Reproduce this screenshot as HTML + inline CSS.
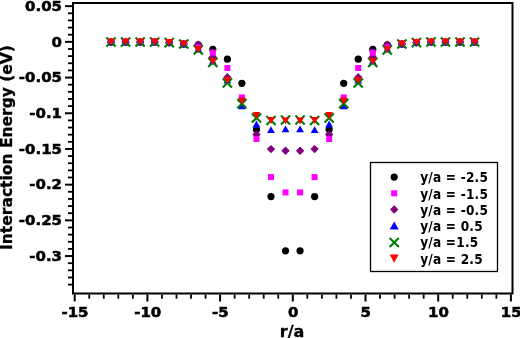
<!DOCTYPE html>
<html><head><meta charset="utf-8"><style>
html,body{margin:0;padding:0;background:#fff;}
svg{display:block;filter:blur(0.3px);}
text{font-family:"DejaVu Sans","Liberation Sans",sans-serif;font-weight:bold;fill:#000;}
.tk{font-size:14.4px;stroke:#000;stroke-width:0.55px;}
.al{font-size:16px;stroke:#000;stroke-width:0.3px;}
.yl{font-size:15.5px;stroke:#000;stroke-width:0.3px;}
.lg{font-size:13.5px;letter-spacing:0.22px;font-family:"DejaVu Sans Condensed","DejaVu Sans",sans-serif;}
</style></head><body>
<svg width="520" height="338" viewBox="0 0 520 338">
<rect width="520" height="338" fill="#fff"/>
<circle cx="111.05" cy="42.00" r="3.6" fill="#000"/>
<circle cx="125.59" cy="42.00" r="3.6" fill="#000"/>
<circle cx="140.13" cy="42.00" r="3.6" fill="#000"/>
<circle cx="154.67" cy="42.00" r="3.6" fill="#000"/>
<circle cx="169.21" cy="42.60" r="3.6" fill="#000"/>
<circle cx="183.75" cy="44.00" r="3.6" fill="#000"/>
<circle cx="198.29" cy="44.80" r="3.6" fill="#000"/>
<circle cx="212.83" cy="49.40" r="3.6" fill="#000"/>
<circle cx="227.37" cy="59.20" r="3.6" fill="#000"/>
<circle cx="241.91" cy="83.30" r="3.6" fill="#000"/>
<circle cx="256.45" cy="129.50" r="3.6" fill="#000"/>
<circle cx="270.99" cy="196.60" r="3.6" fill="#000"/>
<circle cx="285.53" cy="250.80" r="3.6" fill="#000"/>
<circle cx="300.07" cy="250.80" r="3.6" fill="#000"/>
<circle cx="314.61" cy="196.60" r="3.6" fill="#000"/>
<circle cx="329.15" cy="129.50" r="3.6" fill="#000"/>
<circle cx="343.69" cy="83.30" r="3.6" fill="#000"/>
<circle cx="358.23" cy="59.20" r="3.6" fill="#000"/>
<circle cx="372.77" cy="49.40" r="3.6" fill="#000"/>
<circle cx="387.31" cy="44.80" r="3.6" fill="#000"/>
<circle cx="401.85" cy="44.00" r="3.6" fill="#000"/>
<circle cx="416.39" cy="42.60" r="3.6" fill="#000"/>
<circle cx="430.93" cy="42.00" r="3.6" fill="#000"/>
<circle cx="445.47" cy="42.00" r="3.6" fill="#000"/>
<circle cx="460.01" cy="42.00" r="3.6" fill="#000"/>
<circle cx="474.55" cy="42.00" r="3.6" fill="#000"/>
<path d="M111.05 37.80L115.25 42.00L111.05 46.20L106.85 42.00Z" fill="#800080"/>
<path d="M125.59 37.80L129.79 42.00L125.59 46.20L121.39 42.00Z" fill="#800080"/>
<path d="M140.13 37.80L144.33 42.00L140.13 46.20L135.93 42.00Z" fill="#800080"/>
<path d="M154.67 37.80L158.87 42.00L154.67 46.20L150.47 42.00Z" fill="#800080"/>
<path d="M169.21 38.40L173.41 42.60L169.21 46.80L165.01 42.60Z" fill="#800080"/>
<path d="M183.75 39.80L187.95 44.00L183.75 48.20L179.55 44.00Z" fill="#800080"/>
<path d="M198.29 40.60L202.49 44.80L198.29 49.00L194.09 44.80Z" fill="#800080"/>
<path d="M212.83 52.80L217.03 57.00L212.83 61.20L208.63 57.00Z" fill="#800080"/>
<path d="M227.37 73.10L231.57 77.30L227.37 81.50L223.17 77.30Z" fill="#800080"/>
<path d="M241.91 96.30L246.11 100.50L241.91 104.70L237.71 100.50Z" fill="#800080"/>
<path d="M256.45 130.30L260.65 134.50L256.45 138.70L252.25 134.50Z" fill="#800080"/>
<path d="M270.99 144.90L275.19 149.10L270.99 153.30L266.79 149.10Z" fill="#800080"/>
<path d="M285.53 146.50L289.73 150.70L285.53 154.90L281.33 150.70Z" fill="#800080"/>
<path d="M300.07 146.50L304.27 150.70L300.07 154.90L295.87 150.70Z" fill="#800080"/>
<path d="M314.61 144.90L318.81 149.10L314.61 153.30L310.41 149.10Z" fill="#800080"/>
<path d="M329.15 130.30L333.35 134.50L329.15 138.70L324.95 134.50Z" fill="#800080"/>
<path d="M343.69 96.30L347.89 100.50L343.69 104.70L339.49 100.50Z" fill="#800080"/>
<path d="M358.23 73.10L362.43 77.30L358.23 81.50L354.03 77.30Z" fill="#800080"/>
<path d="M372.77 52.80L376.97 57.00L372.77 61.20L368.57 57.00Z" fill="#800080"/>
<path d="M387.31 40.60L391.51 44.80L387.31 49.00L383.11 44.80Z" fill="#800080"/>
<path d="M401.85 39.80L406.05 44.00L401.85 48.20L397.65 44.00Z" fill="#800080"/>
<path d="M416.39 38.40L420.59 42.60L416.39 46.80L412.19 42.60Z" fill="#800080"/>
<path d="M430.93 37.80L435.13 42.00L430.93 46.20L426.73 42.00Z" fill="#800080"/>
<path d="M445.47 37.80L449.67 42.00L445.47 46.20L441.27 42.00Z" fill="#800080"/>
<path d="M460.01 37.80L464.21 42.00L460.01 46.20L455.81 42.00Z" fill="#800080"/>
<path d="M474.55 37.80L478.75 42.00L474.55 46.20L470.35 42.00Z" fill="#800080"/>
<rect x="108.05" y="39.00" width="6.0" height="6.0" fill="#ff00ff"/>
<rect x="122.59" y="39.00" width="6.0" height="6.0" fill="#ff00ff"/>
<rect x="137.13" y="39.00" width="6.0" height="6.0" fill="#ff00ff"/>
<rect x="151.67" y="39.00" width="6.0" height="6.0" fill="#ff00ff"/>
<rect x="166.21" y="39.60" width="6.0" height="6.0" fill="#ff00ff"/>
<rect x="180.75" y="41.00" width="6.0" height="6.0" fill="#ff00ff"/>
<rect x="195.29" y="44.50" width="6.0" height="6.0" fill="#ff00ff"/>
<rect x="209.83" y="49.50" width="6.0" height="6.0" fill="#ff00ff"/>
<rect x="224.37" y="65.00" width="6.0" height="6.0" fill="#ff00ff"/>
<rect x="238.91" y="94.40" width="6.0" height="6.0" fill="#ff00ff"/>
<rect x="253.45" y="136.00" width="6.0" height="6.0" fill="#ff00ff"/>
<rect x="267.99" y="174.10" width="6.0" height="6.0" fill="#ff00ff"/>
<rect x="282.53" y="189.40" width="6.0" height="6.0" fill="#ff00ff"/>
<rect x="297.07" y="189.40" width="6.0" height="6.0" fill="#ff00ff"/>
<rect x="311.61" y="174.10" width="6.0" height="6.0" fill="#ff00ff"/>
<rect x="326.15" y="136.00" width="6.0" height="6.0" fill="#ff00ff"/>
<rect x="340.69" y="94.40" width="6.0" height="6.0" fill="#ff00ff"/>
<rect x="355.23" y="65.00" width="6.0" height="6.0" fill="#ff00ff"/>
<rect x="369.77" y="49.50" width="6.0" height="6.0" fill="#ff00ff"/>
<rect x="384.31" y="44.50" width="6.0" height="6.0" fill="#ff00ff"/>
<rect x="398.85" y="41.00" width="6.0" height="6.0" fill="#ff00ff"/>
<rect x="413.39" y="39.60" width="6.0" height="6.0" fill="#ff00ff"/>
<rect x="427.93" y="39.00" width="6.0" height="6.0" fill="#ff00ff"/>
<rect x="442.47" y="39.00" width="6.0" height="6.0" fill="#ff00ff"/>
<rect x="457.01" y="39.00" width="6.0" height="6.0" fill="#ff00ff"/>
<rect x="471.55" y="39.00" width="6.0" height="6.0" fill="#ff00ff"/>
<path d="M111.05 38.60L114.95 45.40L107.15 45.40Z" fill="#0000ff"/>
<path d="M125.59 38.60L129.49 45.40L121.69 45.40Z" fill="#0000ff"/>
<path d="M140.13 38.60L144.03 45.40L136.23 45.40Z" fill="#0000ff"/>
<path d="M154.67 38.60L158.57 45.40L150.77 45.40Z" fill="#0000ff"/>
<path d="M169.21 39.20L173.11 46.00L165.31 46.00Z" fill="#0000ff"/>
<path d="M183.75 40.60L187.65 47.40L179.85 47.40Z" fill="#0000ff"/>
<path d="M198.29 45.60L202.19 52.40L194.39 52.40Z" fill="#0000ff"/>
<path d="M212.83 57.60L216.73 64.40L208.93 64.40Z" fill="#0000ff"/>
<path d="M227.37 76.60L231.27 83.40L223.47 83.40Z" fill="#0000ff"/>
<path d="M241.91 102.40L245.81 109.20L238.01 109.20Z" fill="#0000ff"/>
<path d="M256.45 120.60L260.35 127.40L252.55 127.40Z" fill="#0000ff"/>
<path d="M270.99 126.30L274.89 133.10L267.09 133.10Z" fill="#0000ff"/>
<path d="M285.53 125.50L289.43 132.30L281.63 132.30Z" fill="#0000ff"/>
<path d="M300.07 125.50L303.97 132.30L296.17 132.30Z" fill="#0000ff"/>
<path d="M314.61 126.30L318.51 133.10L310.71 133.10Z" fill="#0000ff"/>
<path d="M329.15 120.60L333.05 127.40L325.25 127.40Z" fill="#0000ff"/>
<path d="M343.69 102.40L347.59 109.20L339.79 109.20Z" fill="#0000ff"/>
<path d="M358.23 76.60L362.13 83.40L354.33 83.40Z" fill="#0000ff"/>
<path d="M372.77 57.60L376.67 64.40L368.87 64.40Z" fill="#0000ff"/>
<path d="M387.31 45.60L391.21 52.40L383.41 52.40Z" fill="#0000ff"/>
<path d="M401.85 40.60L405.75 47.40L397.95 47.40Z" fill="#0000ff"/>
<path d="M416.39 39.20L420.29 46.00L412.49 46.00Z" fill="#0000ff"/>
<path d="M430.93 38.60L434.83 45.40L427.03 45.40Z" fill="#0000ff"/>
<path d="M445.47 38.60L449.37 45.40L441.57 45.40Z" fill="#0000ff"/>
<path d="M460.01 38.60L463.91 45.40L456.11 45.40Z" fill="#0000ff"/>
<path d="M474.55 38.60L478.45 45.40L470.65 45.40Z" fill="#0000ff"/>
<path d="M106.45 37.40L115.65 46.60M106.45 46.60L115.65 37.40" stroke="#007a00" stroke-width="2.1" fill="none"/>
<path d="M120.99 37.40L130.19 46.60M120.99 46.60L130.19 37.40" stroke="#007a00" stroke-width="2.1" fill="none"/>
<path d="M135.53 37.40L144.73 46.60M135.53 46.60L144.73 37.40" stroke="#007a00" stroke-width="2.1" fill="none"/>
<path d="M150.07 37.40L159.27 46.60M150.07 46.60L159.27 37.40" stroke="#007a00" stroke-width="2.1" fill="none"/>
<path d="M164.61 38.00L173.81 47.20M164.61 47.20L173.81 38.00" stroke="#007a00" stroke-width="2.1" fill="none"/>
<path d="M179.15 39.40L188.35 48.60M179.15 48.60L188.35 39.40" stroke="#007a00" stroke-width="2.1" fill="none"/>
<path d="M193.69 45.20L202.89 54.40M193.69 54.40L202.89 45.20" stroke="#007a00" stroke-width="2.1" fill="none"/>
<path d="M208.23 57.70L217.43 66.90M208.23 66.90L217.43 57.70" stroke="#007a00" stroke-width="2.1" fill="none"/>
<path d="M222.77 78.40L231.97 87.60M222.77 87.60L231.97 78.40" stroke="#007a00" stroke-width="2.1" fill="none"/>
<path d="M237.31 99.00L246.51 108.20M237.31 108.20L246.51 99.00" stroke="#007a00" stroke-width="2.1" fill="none"/>
<path d="M251.85 113.40L261.05 122.60M251.85 122.60L261.05 113.40" stroke="#007a00" stroke-width="2.1" fill="none"/>
<path d="M266.39 115.90L275.59 125.10M266.39 125.10L275.59 115.90" stroke="#007a00" stroke-width="2.1" fill="none"/>
<path d="M280.93 115.40L290.13 124.60M280.93 124.60L290.13 115.40" stroke="#007a00" stroke-width="2.1" fill="none"/>
<path d="M295.47 115.40L304.67 124.60M295.47 124.60L304.67 115.40" stroke="#007a00" stroke-width="2.1" fill="none"/>
<path d="M310.01 115.90L319.21 125.10M310.01 125.10L319.21 115.90" stroke="#007a00" stroke-width="2.1" fill="none"/>
<path d="M324.55 113.40L333.75 122.60M324.55 122.60L333.75 113.40" stroke="#007a00" stroke-width="2.1" fill="none"/>
<path d="M339.09 99.00L348.29 108.20M339.09 108.20L348.29 99.00" stroke="#007a00" stroke-width="2.1" fill="none"/>
<path d="M353.63 78.40L362.83 87.60M353.63 87.60L362.83 78.40" stroke="#007a00" stroke-width="2.1" fill="none"/>
<path d="M368.17 57.70L377.37 66.90M368.17 66.90L377.37 57.70" stroke="#007a00" stroke-width="2.1" fill="none"/>
<path d="M382.71 45.20L391.91 54.40M382.71 54.40L391.91 45.20" stroke="#007a00" stroke-width="2.1" fill="none"/>
<path d="M397.25 39.40L406.45 48.60M397.25 48.60L406.45 39.40" stroke="#007a00" stroke-width="2.1" fill="none"/>
<path d="M411.79 38.00L420.99 47.20M411.79 47.20L420.99 38.00" stroke="#007a00" stroke-width="2.1" fill="none"/>
<path d="M426.33 37.40L435.53 46.60M426.33 46.60L435.53 37.40" stroke="#007a00" stroke-width="2.1" fill="none"/>
<path d="M440.87 37.40L450.07 46.60M440.87 46.60L450.07 37.40" stroke="#007a00" stroke-width="2.1" fill="none"/>
<path d="M455.41 37.40L464.61 46.60M455.41 46.60L464.61 37.40" stroke="#007a00" stroke-width="2.1" fill="none"/>
<path d="M469.95 37.40L479.15 46.60M469.95 46.60L479.15 37.40" stroke="#007a00" stroke-width="2.1" fill="none"/>
<path d="M107.25 38.50L114.85 38.50L111.05 45.50Z" fill="#ff0000"/>
<path d="M121.79 38.50L129.39 38.50L125.59 45.50Z" fill="#ff0000"/>
<path d="M136.33 38.50L143.93 38.50L140.13 45.50Z" fill="#ff0000"/>
<path d="M150.87 38.50L158.47 38.50L154.67 45.50Z" fill="#ff0000"/>
<path d="M165.41 39.10L173.01 39.10L169.21 46.10Z" fill="#ff0000"/>
<path d="M179.95 40.50L187.55 40.50L183.75 47.50Z" fill="#ff0000"/>
<path d="M194.49 46.00L202.09 46.00L198.29 53.00Z" fill="#ff0000"/>
<path d="M209.03 58.00L216.63 58.00L212.83 65.00Z" fill="#ff0000"/>
<path d="M223.57 77.00L231.17 77.00L227.37 84.00Z" fill="#ff0000"/>
<path d="M238.11 97.50L245.71 97.50L241.91 104.50Z" fill="#ff0000"/>
<path d="M252.65 112.00L260.25 112.00L256.45 119.00Z" fill="#ff0000"/>
<path d="M267.19 117.00L274.79 117.00L270.99 124.00Z" fill="#ff0000"/>
<path d="M281.73 117.50L289.33 117.50L285.53 124.50Z" fill="#ff0000"/>
<path d="M296.27 117.50L303.87 117.50L300.07 124.50Z" fill="#ff0000"/>
<path d="M310.81 117.00L318.41 117.00L314.61 124.00Z" fill="#ff0000"/>
<path d="M325.35 112.00L332.95 112.00L329.15 119.00Z" fill="#ff0000"/>
<path d="M339.89 97.50L347.49 97.50L343.69 104.50Z" fill="#ff0000"/>
<path d="M354.43 77.00L362.03 77.00L358.23 84.00Z" fill="#ff0000"/>
<path d="M368.97 58.00L376.57 58.00L372.77 65.00Z" fill="#ff0000"/>
<path d="M383.51 46.00L391.11 46.00L387.31 53.00Z" fill="#ff0000"/>
<path d="M398.05 40.50L405.65 40.50L401.85 47.50Z" fill="#ff0000"/>
<path d="M412.59 39.10L420.19 39.10L416.39 46.10Z" fill="#ff0000"/>
<path d="M427.13 38.50L434.73 38.50L430.93 45.50Z" fill="#ff0000"/>
<path d="M441.67 38.50L449.27 38.50L445.47 45.50Z" fill="#ff0000"/>
<path d="M456.21 38.50L463.81 38.50L460.01 45.50Z" fill="#ff0000"/>
<path d="M470.75 38.50L478.35 38.50L474.55 45.50Z" fill="#ff0000"/>
<rect x="73" y="3" width="439.5" height="290.5" fill="none" stroke="#000" stroke-width="2"/>
<line x1="65" x2="72" y1="6.15" y2="6.15" stroke="#000" stroke-width="2"/>
<line x1="68" x2="72" y1="13.29" y2="13.29" stroke="#000" stroke-width="1.8"/>
<line x1="68" x2="72" y1="20.43" y2="20.43" stroke="#000" stroke-width="1.8"/>
<line x1="68" x2="72" y1="27.57" y2="27.57" stroke="#000" stroke-width="1.8"/>
<line x1="68" x2="72" y1="34.71" y2="34.71" stroke="#000" stroke-width="1.8"/>
<line x1="65" x2="72" y1="41.85" y2="41.85" stroke="#000" stroke-width="2"/>
<line x1="68" x2="72" y1="48.99" y2="48.99" stroke="#000" stroke-width="1.8"/>
<line x1="68" x2="72" y1="56.13" y2="56.13" stroke="#000" stroke-width="1.8"/>
<line x1="68" x2="72" y1="63.27" y2="63.27" stroke="#000" stroke-width="1.8"/>
<line x1="68" x2="72" y1="70.41" y2="70.41" stroke="#000" stroke-width="1.8"/>
<line x1="65" x2="72" y1="77.55" y2="77.55" stroke="#000" stroke-width="2"/>
<line x1="68" x2="72" y1="84.69" y2="84.69" stroke="#000" stroke-width="1.8"/>
<line x1="68" x2="72" y1="91.83" y2="91.83" stroke="#000" stroke-width="1.8"/>
<line x1="68" x2="72" y1="98.97" y2="98.97" stroke="#000" stroke-width="1.8"/>
<line x1="68" x2="72" y1="106.11" y2="106.11" stroke="#000" stroke-width="1.8"/>
<line x1="65" x2="72" y1="113.25" y2="113.25" stroke="#000" stroke-width="2"/>
<line x1="68" x2="72" y1="120.39" y2="120.39" stroke="#000" stroke-width="1.8"/>
<line x1="68" x2="72" y1="127.53" y2="127.53" stroke="#000" stroke-width="1.8"/>
<line x1="68" x2="72" y1="134.67" y2="134.67" stroke="#000" stroke-width="1.8"/>
<line x1="68" x2="72" y1="141.81" y2="141.81" stroke="#000" stroke-width="1.8"/>
<line x1="65" x2="72" y1="148.95" y2="148.95" stroke="#000" stroke-width="2"/>
<line x1="68" x2="72" y1="156.09" y2="156.09" stroke="#000" stroke-width="1.8"/>
<line x1="68" x2="72" y1="163.23" y2="163.23" stroke="#000" stroke-width="1.8"/>
<line x1="68" x2="72" y1="170.37" y2="170.37" stroke="#000" stroke-width="1.8"/>
<line x1="68" x2="72" y1="177.51" y2="177.51" stroke="#000" stroke-width="1.8"/>
<line x1="65" x2="72" y1="184.65" y2="184.65" stroke="#000" stroke-width="2"/>
<line x1="68" x2="72" y1="191.79" y2="191.79" stroke="#000" stroke-width="1.8"/>
<line x1="68" x2="72" y1="198.93" y2="198.93" stroke="#000" stroke-width="1.8"/>
<line x1="68" x2="72" y1="206.07" y2="206.07" stroke="#000" stroke-width="1.8"/>
<line x1="68" x2="72" y1="213.21" y2="213.21" stroke="#000" stroke-width="1.8"/>
<line x1="65" x2="72" y1="220.35" y2="220.35" stroke="#000" stroke-width="2"/>
<line x1="68" x2="72" y1="227.49" y2="227.49" stroke="#000" stroke-width="1.8"/>
<line x1="68" x2="72" y1="234.63" y2="234.63" stroke="#000" stroke-width="1.8"/>
<line x1="68" x2="72" y1="241.77" y2="241.77" stroke="#000" stroke-width="1.8"/>
<line x1="68" x2="72" y1="248.91" y2="248.91" stroke="#000" stroke-width="1.8"/>
<line x1="65" x2="72" y1="256.05" y2="256.05" stroke="#000" stroke-width="2"/>
<line x1="68" x2="72" y1="263.19" y2="263.19" stroke="#000" stroke-width="1.8"/>
<line x1="68" x2="72" y1="270.33" y2="270.33" stroke="#000" stroke-width="1.8"/>
<line x1="68" x2="72" y1="277.47" y2="277.47" stroke="#000" stroke-width="1.8"/>
<line x1="68" x2="72" y1="284.61" y2="284.61" stroke="#000" stroke-width="1.8"/>
<line y1="294.5" y2="301.5" x1="74.70" x2="74.70" stroke="#000" stroke-width="2"/>
<line y1="294.5" y2="298.7" x1="89.24" x2="89.24" stroke="#000" stroke-width="1.8"/>
<line y1="294.5" y2="298.7" x1="103.78" x2="103.78" stroke="#000" stroke-width="1.8"/>
<line y1="294.5" y2="298.7" x1="118.32" x2="118.32" stroke="#000" stroke-width="1.8"/>
<line y1="294.5" y2="298.7" x1="132.86" x2="132.86" stroke="#000" stroke-width="1.8"/>
<line y1="294.5" y2="301.5" x1="147.40" x2="147.40" stroke="#000" stroke-width="2"/>
<line y1="294.5" y2="298.7" x1="161.94" x2="161.94" stroke="#000" stroke-width="1.8"/>
<line y1="294.5" y2="298.7" x1="176.48" x2="176.48" stroke="#000" stroke-width="1.8"/>
<line y1="294.5" y2="298.7" x1="191.02" x2="191.02" stroke="#000" stroke-width="1.8"/>
<line y1="294.5" y2="298.7" x1="205.56" x2="205.56" stroke="#000" stroke-width="1.8"/>
<line y1="294.5" y2="301.5" x1="220.10" x2="220.10" stroke="#000" stroke-width="2"/>
<line y1="294.5" y2="298.7" x1="234.64" x2="234.64" stroke="#000" stroke-width="1.8"/>
<line y1="294.5" y2="298.7" x1="249.18" x2="249.18" stroke="#000" stroke-width="1.8"/>
<line y1="294.5" y2="298.7" x1="263.72" x2="263.72" stroke="#000" stroke-width="1.8"/>
<line y1="294.5" y2="298.7" x1="278.26" x2="278.26" stroke="#000" stroke-width="1.8"/>
<line y1="294.5" y2="301.5" x1="292.80" x2="292.80" stroke="#000" stroke-width="2"/>
<line y1="294.5" y2="298.7" x1="307.34" x2="307.34" stroke="#000" stroke-width="1.8"/>
<line y1="294.5" y2="298.7" x1="321.88" x2="321.88" stroke="#000" stroke-width="1.8"/>
<line y1="294.5" y2="298.7" x1="336.42" x2="336.42" stroke="#000" stroke-width="1.8"/>
<line y1="294.5" y2="298.7" x1="350.96" x2="350.96" stroke="#000" stroke-width="1.8"/>
<line y1="294.5" y2="301.5" x1="365.50" x2="365.50" stroke="#000" stroke-width="2"/>
<line y1="294.5" y2="298.7" x1="380.04" x2="380.04" stroke="#000" stroke-width="1.8"/>
<line y1="294.5" y2="298.7" x1="394.58" x2="394.58" stroke="#000" stroke-width="1.8"/>
<line y1="294.5" y2="298.7" x1="409.12" x2="409.12" stroke="#000" stroke-width="1.8"/>
<line y1="294.5" y2="298.7" x1="423.66" x2="423.66" stroke="#000" stroke-width="1.8"/>
<line y1="294.5" y2="301.5" x1="438.20" x2="438.20" stroke="#000" stroke-width="2"/>
<line y1="294.5" y2="298.7" x1="452.74" x2="452.74" stroke="#000" stroke-width="1.8"/>
<line y1="294.5" y2="298.7" x1="467.28" x2="467.28" stroke="#000" stroke-width="1.8"/>
<line y1="294.5" y2="298.7" x1="481.82" x2="481.82" stroke="#000" stroke-width="1.8"/>
<line y1="294.5" y2="298.7" x1="496.36" x2="496.36" stroke="#000" stroke-width="1.8"/>
<line y1="294.5" y2="301.5" x1="510.90" x2="510.90" stroke="#000" stroke-width="2"/>
<text transform="translate(62.0 10.95) scale(1.04 1)" text-anchor="end" class="tk">0.05</text>
<text transform="translate(62.0 46.65) scale(1.04 1)" text-anchor="end" class="tk">0</text>
<text transform="translate(62.0 82.35) scale(1.04 1)" text-anchor="end" class="tk">-0.05</text>
<text transform="translate(62.0 118.05) scale(1.04 1)" text-anchor="end" class="tk">-0.1</text>
<text transform="translate(62.0 153.75) scale(1.04 1)" text-anchor="end" class="tk">-0.15</text>
<text transform="translate(62.0 189.45) scale(1.04 1)" text-anchor="end" class="tk">-0.2</text>
<text transform="translate(62.0 225.15) scale(1.04 1)" text-anchor="end" class="tk">-0.25</text>
<text transform="translate(62.0 260.85) scale(1.04 1)" text-anchor="end" class="tk">-0.3</text>
<text transform="translate(75.00 316.8) scale(1.04 1)" text-anchor="middle" class="tk">-15</text>
<text transform="translate(147.70 316.8) scale(1.04 1)" text-anchor="middle" class="tk">-10</text>
<text transform="translate(220.40 316.8) scale(1.04 1)" text-anchor="middle" class="tk">-5</text>
<text transform="translate(293.10 316.8) scale(1.04 1)" text-anchor="middle" class="tk">0</text>
<text transform="translate(365.80 316.8) scale(1.04 1)" text-anchor="middle" class="tk">5</text>
<text transform="translate(438.50 316.8) scale(1.04 1)" text-anchor="middle" class="tk">10</text>
<text transform="translate(511.20 316.8) scale(1.04 1)" text-anchor="middle" class="tk">15</text>
<text x="292" y="337" text-anchor="middle" class="al">r/a</text>
<text transform="translate(12 147.5) rotate(-90)" text-anchor="middle" class="yl">Interaction Energy (eV)</text>
<rect x="370.5" y="162.5" width="127" height="109" fill="#fff" stroke="#000" stroke-width="1.3"/>
<circle cx="394.20" cy="177.10" r="3.6" fill="#000"/>
<text x="420.2" y="182.30" class="lg">y/a = -2.5</text>
<rect x="391.20" y="190.30" width="6.0" height="6.0" fill="#ff00ff"/>
<text x="420.2" y="198.55" class="lg">y/a = -1.5</text>
<path d="M394.20 205.30L398.40 209.50L394.20 213.70L390.00 209.50Z" fill="#800080"/>
<text x="420.2" y="214.80" class="lg">y/a = -0.5</text>
<path d="M394.20 221.40L398.70 229.40L389.70 229.40Z" fill="#0000ff"/>
<text x="420.2" y="231.05" class="lg">y/a = 0.5</text>
<path d="M389.60 237.90L398.80 247.10M389.60 247.10L398.80 237.90" stroke="#007a00" stroke-width="2.1" fill="none"/>
<text x="420.2" y="247.30" class="lg">y/a =1.5</text>
<path d="M389.70 254.50L398.70 254.50L394.20 262.70Z" fill="#ff0000"/>
<text x="420.2" y="263.55" class="lg">y/a = 2.5</text>
</svg>
</body></html>
